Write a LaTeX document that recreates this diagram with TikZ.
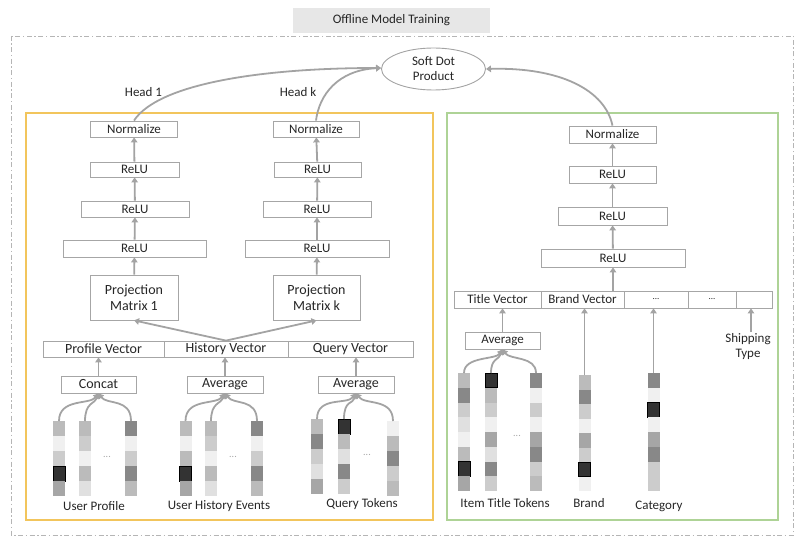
\documentclass[tikz,border=0pt]{standalone}
\usepackage{fontspec}
\setmainfont{Carlito}
\usetikzlibrary{arrows.meta,shapes.geometric}
\definecolor{boxgray}{HTML}{A6A6A6}
\definecolor{arrgray}{HTML}{A3A3A3}
\definecolor{txt}{HTML}{262626}
\definecolor{panelY}{HTML}{F2C55C}
\definecolor{panelG}{HTML}{AED396}
\definecolor{outerc}{HTML}{B5B5B5}
\definecolor{titlefill}{HTML}{E7E7E7}
\definecolor{g0}{HTML}{F0F0F0}
\definecolor{g1}{HTML}{E0E0E0}
\definecolor{g2}{HTML}{CCCCCC}
\definecolor{g3}{HTML}{BBBBBB}
\definecolor{g4}{HTML}{A6A6A6}
\definecolor{g5}{HTML}{888888}
\definecolor{dk}{HTML}{333333}
\newcommand{\tokcol}[4]{%
  \foreach \c/\b [count=\i from 0] in {#4} {
    \fill[\c] (#1-6, #2+\i*#3) rectangle (#1+6, #2+\i*#3+#3);
    \ifnum\b=1 \draw[black, line width=0.6pt] (#1-6,#2+\i*#3) rectangle (#1+6,#2+\i*#3+#3);\fi
  }}
\begin{document}
\begin{tikzpicture}[x=1pt,y=-1pt,
  box/.style={draw=boxgray, line width=0.8pt, inner sep=0pt, text=txt, fill=white,
    font=\fontsize{13}{15}\selectfont, align=center},
  bigbox/.style={box, font=\fontsize{14}{16}\selectfont},
  arr/.style={draw=arrgray, line width=1.8pt, -{Triangle[length=5pt,width=6.5pt]}},
  lbl/.style={text=txt, font=\fontsize{13}{15}\selectfont, inner sep=0pt, align=center},
  dots/.style={text=boxgray, font=\fontsize{10}{12}\selectfont, inner sep=0pt}]
\useasboundingbox (0,0) rectangle (800,548);
% title
\node[fill=titlefill, minimum width=197pt, minimum height=25pt, inner sep=0pt, text=txt,
  font=\fontsize{13}{15}\selectfont] (title) at (391.5,20.5) {Offline Model Training};
% outer frame
\draw[outerc, line width=0.8pt, dash pattern=on 5pt off 2.5pt on 1.5pt off 2.5pt] (11,36) rectangle (793,535);
% panels
\draw[panelY, line width=1.5pt] (26,113) rectangle (433,520);
\draw[panelG, line width=1.5pt] (447,113) rectangle (778,520);
% ellipse
\node[ellipse, draw=arrgray, line width=0.9pt, minimum width=104pt, minimum height=42pt, inner sep=0pt,
  text=txt, align=center, font=\fontsize{13}{15}\selectfont] (sdp) at (433.5,69) {Soft Dot\\Product};
\node[lbl] (h1) at (143.5,92) {Head 1};
\node[lbl] (hk) at (298,92) {Head k};
% left column 1
\node[box, minimum width=87pt, minimum height=16pt] (n1) at (134,129) {Normalize};
\node[box, minimum width=89pt, minimum height=15pt] (r1a) at (134.5,169.5) {ReLU};
\node[box, minimum width=108pt, minimum height=16pt] (r1b) at (135,209) {ReLU};
\node[box, minimum width=143pt, minimum height=17pt] (r1c) at (134.5,248.5) {ReLU};
\node[bigbox, minimum width=88pt, minimum height=45pt] (p1) at (134,297.5) {Projection\\Matrix 1};
% left column k
\node[box, minimum width=86pt, minimum height=16pt] (nk) at (316,129) {Normalize};
\node[box, minimum width=87pt, minimum height=15pt] (rka) at (317.5,169.5) {ReLU};
\node[box, minimum width=108pt, minimum height=16pt] (rkb) at (317,209) {ReLU};
\node[box, minimum width=144pt, minimum height=17pt] (rkc) at (317,248.5) {ReLU};
\node[bigbox, minimum width=87pt, minimum height=45pt] (pk) at (316.5,297.5) {Projection\\Matrix k};
% vector row
\node[bigbox, minimum width=121pt, minimum height=16pt] (prof) at (103.5,349) {Profile Vector};
\node[bigbox, minimum width=124pt, minimum height=16pt] (hist) at (226,349) {History Vector};
\node[bigbox, minimum width=125pt, minimum height=16pt] (qry) at (350.5,349) {Query Vector};
% aggregators
\node[bigbox, minimum width=75pt, minimum height=17pt] (concat) at (98.5,384.5) {Concat};
\node[bigbox, minimum width=76pt, minimum height=17pt] (havg) at (225,384.5) {Average};
\node[bigbox, minimum width=76pt, minimum height=17pt] (qavg) at (356,384.5) {Average};
% arrows left
\draw[arr] (p1) -- (r1c);
\draw[arr] (r1c) -- (r1b);
\draw[arr] (r1b) -- (r1a);
\draw[arr] (r1a) -- (n1);
\draw[arr] (pk) -- (rkc);
\draw[arr] (rkc) -- (rkb);
\draw[arr] (rkb) -- (rka);
\draw[arr] (rka) -- (nk);
\draw[arr] (hist.north) -- (p1.south);
\draw[arr] (hist.north) -- (pk.south);
\draw[arr] (concat.north) -- (concat.north |- prof.south);
\draw[arr] (havg.north) -- (havg.north |- hist.south);
\draw[arr] (qavg.north) -- (qavg.north |- qry.south);
% heads
\draw[arr] (n1.north) .. controls (158,84) and (260,68) .. ([yshift=1pt]sdp.west);
\draw[arr] (nk.north) .. controls (319,95) and (338,70) .. ([yshift=1pt]sdp.west);
% token columns left
\tokcol{59}{421}{15}{g3/0,g0/0,g2/0,dk/1,g4/0}
\tokcol{85}{421}{15}{g3/0,g2/0,g0/0,g3/0,g1/0}
\tokcol{131}{421}{15}{g5/0,g0/0,g2/0,g5/0,g3/0}
\tokcol{185.5}{421}{15}{g3/0,g0/0,g3/0,dk/1,g4/0}
\tokcol{211}{421}{15}{g3/0,g2/0,g0/0,g3/0,g1/0}
\tokcol{257}{421}{15}{g5/0,g0/0,g2/0,g5/0,g3/0}
\tokcol{317}{419}{15}{g3/0,g5/0,g2/0,g1/0,g4/0}
\tokcol{344}{419}{15}{dk/1,g3/0,g1/0,g5/0,g2/0}
\tokcol{393}{421}{15}{g0/0,g3/0,g5/0,g2/0,g3/0}
\coordinate (u1) at (59,421); \coordinate (u2) at (85,421); \coordinate (u3) at (131,421);
\coordinate (e1) at (185.5,421); \coordinate (e2) at (211,421); \coordinate (e3) at (257,421);
\coordinate (q1) at (317,419); \coordinate (q2) at (344,419); \coordinate (q3) at (393,421);
\draw[arr] (u1) .. controls (59,398) and (90,405) .. (concat.south);
\draw[arr] (u2) .. controls (85,402) and (95,404) .. (concat.south);
\draw[arr] (u3) .. controls (131,398) and (107,405) .. (concat.south);
\draw[arr] (e1) .. controls (185.5,398) and (216,405) .. (havg.south);
\draw[arr] (e2) .. controls (211,402) and (221,404) .. (havg.south);
\draw[arr] (e3) .. controls (257,398) and (234,405) .. (havg.south);
\draw[arr] (q1) .. controls (317,396) and (347,405) .. (qavg.south);
\draw[arr] (q2) .. controls (344,400) and (353,404) .. (qavg.south);
\draw[arr] (q3) .. controls (393,398) and (365,405) .. (qavg.south);
\node[dots] (d1l) at (107,457) {...};
\node[dots] (d2l) at (233,457) {...};
\node[dots] (d3l) at (367,455) {...};
\node[lbl] (lup) at (94,506) {User Profile};
\node[lbl] (luh) at (219,506) {User History Events};
\node[lbl] (lqt) at (362,504) {Query Tokens};
% right panel
\node[box, minimum width=87pt, minimum height=17pt] (rn) at (612.5,134.5) {Normalize};
\node[box, minimum width=87pt, minimum height=17pt] (rr1) at (612.5,174.5) {ReLU};
\node[box, minimum width=109pt, minimum height=18pt] (rr2) at (612.5,216) {ReLU};
\node[box, minimum width=144pt, minimum height=18pt] (rr3) at (613,258) {ReLU};
\node[box, minimum width=87pt, minimum height=17pt] (tv) at (497.5,299.5) {Title Vector};
\node[box, minimum width=83pt, minimum height=17pt] (bv) at (582.5,299.5) {Brand Vector};
\node[box, minimum width=64pt, minimum height=17pt, font=\fontsize{9}{10}\selectfont] (dv1) at (656,299.5) {...};
\node[box, minimum width=48pt, minimum height=17pt, font=\fontsize{9}{10}\selectfont] (dv2) at (712,299.5) {...};
\node[box, minimum width=36pt, minimum height=17pt] (sv) at (754,299.5) {};
\node[box, minimum width=75pt, minimum height=17pt] (ravg) at (502.5,340.5) {Average};
\draw[arr] (rr3.south |- bv.north) -- (rr3.south);
\draw[arr] (rr3) -- (rr2);
\draw[arr] (rr2) -- (rr1);
\draw[arr] (rr1) -- (rn);
\draw[arr] (rn.north) .. controls (605,90) and (560,67) .. (sdp.east);
\draw[arr] (ravg.north) -- (ravg.north |- tv.south);
\tokcol{464}{373}{14.75}{g3/0,g5/0,g2/0,g1/0,g0/0,g3/0,dk/1,g4/0}
\tokcol{491}{373}{14.75}{dk/1,g3/0,g2/0,g0/0,g4/0,g1/0,g5/0,g2/0}
\tokcol{536}{373}{14.75}{g5/0,g0/0,g2/0,g0/0,g4/0,g5/0,g2/0,g3/0}
\tokcol{584.5}{375}{14.5}{g3/0,g5/0,g2/0,g0/0,g4/0,g2/0,dk/1,g0/0}
\tokcol{653.5}{373}{14.75}{g5/0,g0/0,dk/1,g0/0,g4/0,g5/0,g2/0,g2/0}
\coordinate (t1) at (464,373); \coordinate (t2) at (491,373); \coordinate (t3) at (536,373);
\coordinate (bt) at (584.5,375); \coordinate (ct) at (653.5,373);
\draw[arr] (t1) .. controls (464,356) and (496,360) .. (ravg.south);
\draw[arr] (t2) .. controls (491,358) and (499,360) .. (ravg.south);
\draw[arr] (t3) .. controls (536,356) and (510,360) .. (ravg.south);
\draw[arr] (bt) -- (bt |- bv.south);
\draw[arr] (ct) -- (ct |- dv1.south);
\node[lbl] (ship) at (748,347) {Shipping\\Type};
\coordinate (shipt) at (751,332);
\draw[arr] (shipt) -- (shipt |- sv.south);
\node[dots] (d4r) at (517,436) {...};
\node[lbl] (lit) at (505,503) {Item Title Tokens};
\node[lbl] (lbr) at (589,503) {Brand};
\node[lbl] (lca) at (659,506) {Category};
\end{tikzpicture}
\end{document}
